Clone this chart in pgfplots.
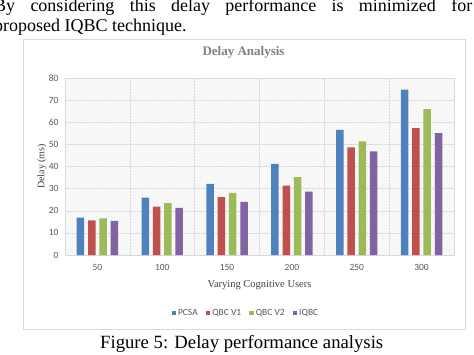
\documentclass[border=0pt]{standalone}
\usepackage{pgfplots}
\pgfplotsset{compat=1.18}
\usepackage{fontspec}
\setmainfont{Liberation Serif}
\newfontfamily\carlito{Carlito}
\usetikzlibrary{patterns}
\definecolor{cA}{HTML}{4F81BD}
\definecolor{cB}{HTML}{C0504D}
\definecolor{cC}{HTML}{9BBB59}
\definecolor{cD}{HTML}{8064A2}
\definecolor{tickgray}{HTML}{595959}
\definecolor{titlegray}{HTML}{7F7F7F}
\definecolor{labelgray}{HTML}{404040}
\begin{document}
\begin{tikzpicture}[x=1pt,y=1pt]
\clip (0pt,0pt) rectangle (474pt,354pt);
\node[anchor=base west, inner sep=0] at (-6pt,342pt) {\fontsize{18}{20}\selectfont\makebox[478pt][s]{By considering this delay performance is minimized for}};
\node[anchor=base west, inner sep=0] at (-6pt,322pt) {\fontsize{18}{20}\selectfont proposed IQBC technique.};
\draw[gray!30, line width=0.8pt] (23pt,25pt) rectangle (465pt,315pt);
\node[anchor=base west, inner sep=0] at (100pt,6pt) {\fontsize{18.7}{20}\selectfont Figure 5: Delay performance analysis};
\begin{axis}[
  at={(65pt,99pt)}, anchor=south west,
  scale only axis, width=389pt, height=177pt,
  ybar=3.8pt, bar width=7.5pt,
  xmin=0.5, xmax=6.5, ymin=0, ymax=80,
  xtick={1,2,3,4,5,6}, xticklabels={50,100,150,200,250,300},
  minor xtick={0.5,1.5,2.5,3.5,4.5,5.5,6.5},
  ytick={0,10,...,80},
  xminorgrids, ymajorgrids,
  grid style={gray!25, line width=0.5pt},
  minor grid style={gray!25, line width=0.5pt},
  major tick length=0pt, minor tick length=0pt,
  axis line style={gray!30},
  axis background/.style={pattern=north west lines, pattern color=gray!18},
  /pgf/number format/assume math mode=true,
  ticklabel style={font=\carlito\fontsize{9.5}{10}\selectfont, text=tickgray},
  xticklabel style={yshift=-6pt},
  yticklabel style={xshift=-3pt},
  title={Delay Analysis},
  title style={font=\bfseries\fontsize{13}{14}\selectfont, text=titlegray, anchor=base, at={(axis description cs:0.459,1.096)}},
  xlabel={Varying Cognitive Users},
  xlabel style={font=\fontsize{10.5}{12}\selectfont, text=labelgray, at={(axis description cs:0.5,-0.181)}, anchor=base},
  ylabel={Delay (ms)},
  ylabel style={font=\fontsize{10}{12}\selectfont, text=labelgray, at={(axis description cs:-0.059,0.5)}, anchor=center},
  legend columns=4,
  legend style={draw=none, fill=none, at={(axis description cs:0.465,-0.328)}, anchor=center,
    font=\carlito\fontsize{9.5}{10}\selectfont, text=tickgray,
    /tikz/every even column/.append style={column sep=6pt}},
  legend image code/.code={\fill[#1, draw=none] (0pt,-2.3pt) rectangle (4.5pt,2.3pt);},
]
\addplot[fill=cA, draw=none] coordinates {(1,16.9) (2,25.9) (3,32.1) (4,41.2) (5,56.6) (6,74.8)};
\addplot[fill=cB, draw=none] coordinates {(1,15.7) (2,21.9) (3,26.2) (4,31.4) (5,48.6) (6,57.3)};
\addplot[fill=cC, draw=none] coordinates {(1,16.6) (2,23.5) (3,28.1) (4,35.2) (5,51.4) (6,65.9)};
\addplot[fill=cD, draw=none] coordinates {(1,15.4) (2,21.3) (3,24.0) (4,28.7) (5,46.8) (6,55.1)};
\legend{PCSA, QBC V1, QBC V2, IQBC}
\end{axis}
\end{tikzpicture}
\end{document}
